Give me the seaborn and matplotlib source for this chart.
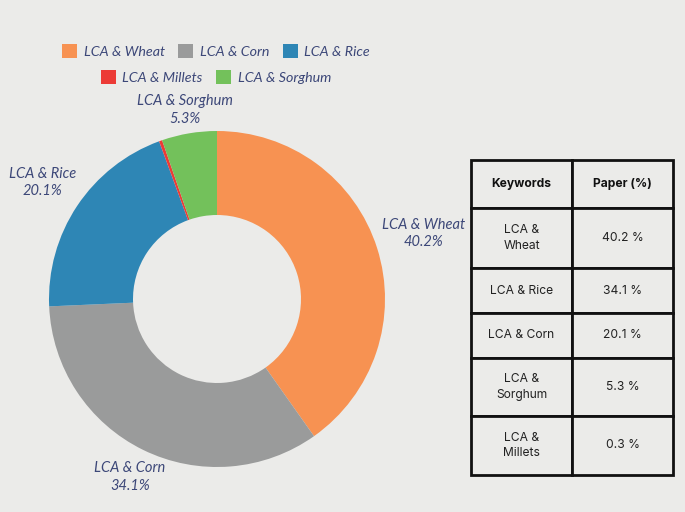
import matplotlib
matplotlib.use("Agg")
import matplotlib.pyplot as plt
import matplotlib.patches as mpatches
import seaborn as sns
import numpy as np

# ---- data ----
categories = ["LCA & Wheat", "LCA & Corn", "LCA & Rice", "LCA & Millets", "LCA & Sorghum"]
values = [40.2, 34.1, 20.1, 0.3, 5.3]
show_label = [True, True, True, False, True]
colors_hex = ["#F79252", "#9A9B9B", "#2E86B5", "#EC3B36", "#73C15B"]

table_header = ["Keywords", "Paper (%)"]
table_keywords = ["LCA &\nWheat", "LCA & Rice", "LCA & Corn", "LCA &\nSorghum", "LCA &\nMillets"]
table_papers = ["40.2 %", "34.1 %", "20.1 %", "5.3 %", "0.3 %"]

BG = "#EBEBE9"
TXT = "#3C4778"

sns.set_theme(style="white", rc={"figure.facecolor": BG, "axes.facecolor": BG})
palette = sns.color_palette(colors_hex)

W, H = 685, 512
fig = plt.figure(figsize=(W / 100, H / 100), dpi=100)

# ---- donut ----
cx, cy, R = 217, 299, 168
ax = fig.add_axes([(cx - R) / W, (H - cy - R) / H, 2 * R / W, 2 * R / H])
wedges, _ = ax.pie(values, colors=palette, startangle=90, counterclock=False,
                   wedgeprops=dict(width=0.5, linewidth=0), radius=1.0)
ax.set_xlim(-1, 1)
ax.set_ylim(-1, 1)
ax.set_aspect("equal")
ax.axis("off")

label_font = dict(family=["Lato", "DejaVu Sans"], style="italic", size=10.5, color=TXT)
label_dist = [1.29, 1.18, 1.25, 1.2, 1.14]
for w, cat, val, show, d in zip(wedges, categories, values, show_label, label_dist):
    if not show:
        continue
    ang = np.deg2rad((w.theta1 + w.theta2) / 2)
    ax.text(d * np.cos(ang), d * np.sin(ang), f"{cat}\n{val}%", ha="center", va="center",
            linespacing=1.3, clip_on=False, **label_font)

# ---- legend (two centered rows) ----
handles = [mpatches.Patch(facecolor=c, edgecolor="none") for c in palette]
leg_kw = dict(frameon=False, handlelength=1.05, handleheight=1.05, handletextpad=0.45,
              columnspacing=0.95, prop=dict(family="Lato", style="italic", size=10.3))
leg1 = fig.legend(handles[:3], categories[:3], ncol=3, loc="center",
                  bbox_to_anchor=(216 / W, 1 - 51 / H), **leg_kw)
leg2 = fig.legend(handles[3:], categories[3:], ncol=2, loc="center",
                  bbox_to_anchor=(216 / W, 1 - 77 / H), **leg_kw)
for lg in (leg1, leg2):
    for t in lg.get_texts():
        t.set_color(TXT)

# ---- table ----
tx0, tx1, ty0, ty1 = 471, 673, 160, 475
tax = fig.add_axes([tx0 / W, (H - ty1) / H, (tx1 - tx0) / W, (ty1 - ty0) / H])
tax.axis("off")
cell_text = [[k, p] for k, p in zip(table_keywords, table_papers)]
tbl = tax.table(cellText=cell_text, colLabels=table_header, cellLoc="center",
                bbox=[0, 0, 1, 1])
tbl.auto_set_font_size(False)
row_h = [48, 60, 45, 45, 58, 59]
col_w = [101, 101]
for (r, c), cell in tbl.get_celld().items():
    cell.set_height(row_h[r])
    cell.set_width(col_w[c])
    cell.set_facecolor(BG)
    cell.set_edgecolor("#111111")
    cell.set_linewidth(2.0)
    txt = cell.get_text()
    txt.set_fontsize(8.7)
    txt.set_fontfamily(["Inter", "DejaVu Sans"])
    txt.set_color("#222222")
    txt.set_linespacing(1.4)
    if r == 0:
        txt.set_fontweight("bold")
        txt.set_color("#111111")

fig.savefig("out.png", dpi=100, facecolor=BG)
